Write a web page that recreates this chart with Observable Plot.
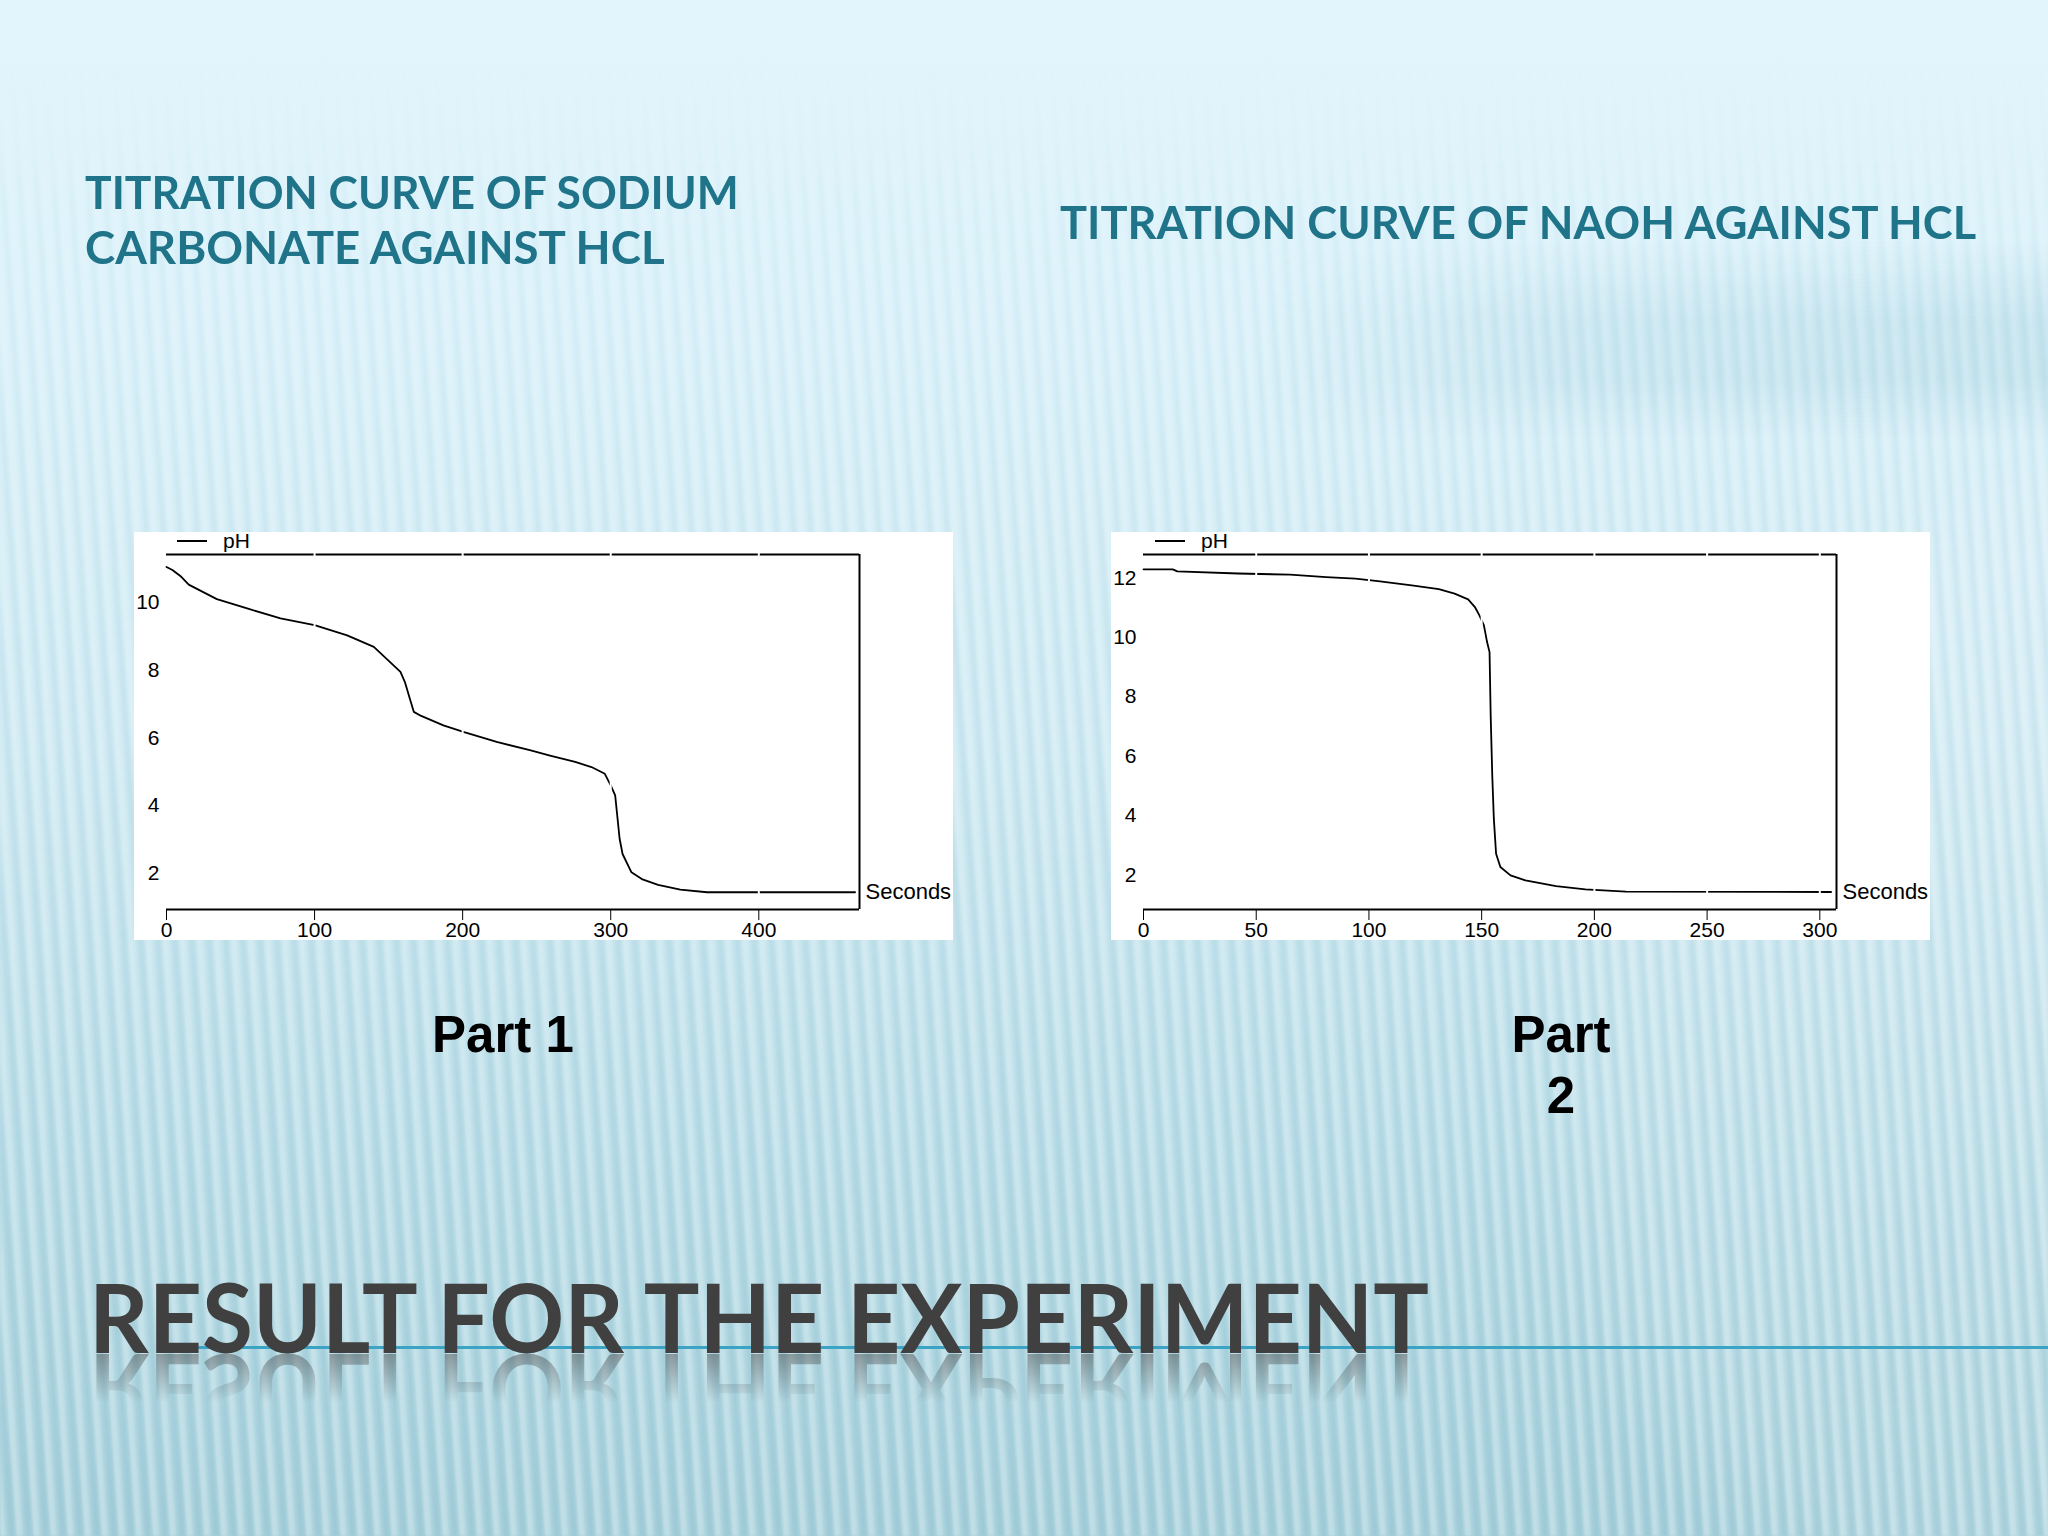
<!DOCTYPE html>
<html>
<head>
<meta charset="utf-8">
<script src="https://cdn.jsdelivr.net/npm/d3@7"></script>
<script src="https://cdn.jsdelivr.net/npm/@observablehq/plot@0.6"></script>
<style>
html, body { margin:0; padding:0; }
body {
  width:2048px; height:1536px; overflow:hidden; position:relative;
  background: linear-gradient(to bottom, #e3f5fc 0px, #dcf2fa 300px, #cfeaf3 750px, #bcdfe9 1100px, #a6d0db 1536px);
  font-family: Lato, "Open Sans", sans-serif;
}
#orb {
  position:absolute; left:1500px; top:430px; width:1300px; height:1300px; border-radius:50%;
  background: radial-gradient(circle, rgba(255,255,255,0.12) 0%, rgba(255,255,255,0.10) 58%, rgba(255,255,255,0.0) 70%);
}
#band {
  position:absolute; left:1250px; top:240px; width:798px; height:200px;
  background: linear-gradient(to right, rgba(140,195,212,0) 0%, rgba(140,195,212,0.20) 40%, rgba(140,195,212,0.26) 100%);
  -webkit-mask-image: linear-gradient(to bottom, transparent 0%, black 40%, black 70%, transparent 100%);
  mask-image: linear-gradient(to bottom, transparent 0%, black 40%, black 70%, transparent 100%);
}
#stripes {
  position:absolute; left:0; top:0; width:2048px; height:1536px;
  background: repeating-linear-gradient(86deg,
    rgba(255,255,255,0.30) 0px, rgba(255,255,255,0.30) 4px,
    rgba(255,255,255,0) 8px, rgba(80,145,168,0.12) 12px,
    rgba(255,255,255,0) 16px, rgba(255,255,255,0.30) 17px);
  filter: blur(1px);
  -webkit-mask-image: linear-gradient(to bottom, transparent 0px, transparent 60px, rgba(0,0,0,0.45) 260px, rgba(0,0,0,0.75) 700px, black 1536px);
  mask-image: linear-gradient(to bottom, transparent 0px, transparent 60px, rgba(0,0,0,0.45) 260px, rgba(0,0,0,0.75) 700px, black 1536px);
}
.title {
  position:absolute; font-family: Lato, "Open Sans", sans-serif; font-weight:700;
  font-size:46px; line-height:46px; color:#20748a; white-space:nowrap; transform-origin: 0 0;
}
.big {
  position:absolute; font-family: Lato, "Open Sans", sans-serif; font-weight:700;
  font-size:95px; line-height:95px; height:95px; color:#404040; white-space:nowrap; transform-origin: 0 0;
  -webkit-box-reflect: below -21px linear-gradient(to bottom, transparent 0px, transparent 36px, rgba(0,0,0,0.45) 84px, rgba(0,0,0,0.45) 95px);
}
.part {
  position:absolute; font-family: "Liberation Sans", Arial, sans-serif; font-weight:700;
  font-size:51px; color:#000; white-space:nowrap;
}
.card { position:absolute; width:819px; height:408px; background:#fff; }
.card svg { position:absolute; left:0; top:0; }
.legend {
  position:absolute; top:0; height:18px; display:flex; align-items:center;
  font-family: "Liberation Sans", Arial, sans-serif; font-size:21px; line-height:18px; color:#000;
}
.legend .sw { width:30px; height:2px; background:#000; margin-right:16px; }
#rule { position:absolute; left:190px; top:1346px; width:1858px; height:2.5px; background:#3ba3c3; }
</style>
</head>
<body>
<div id="band"></div>
<div id="orb"></div>
<div id="stripes"></div>

<div class="title" id="t1a" style="left:85px; top:169px;">TITRATION CURVE OF SODIUM</div>
<div class="title" id="t1b" style="left:85px; top:224px;">CARBONATE AGAINST HCL</div>
<div class="title" id="t2" style="left:1060px; top:199px;">TITRATION CURVE OF NAOH AGAINST HCL</div>

<div class="card" id="card1" style="left:134px; top:532px;"></div>
<div class="card" id="card2" style="left:1111px; top:532px;"></div>

<div class="part" style="left:432px; top:1004px; line-height:61px;">Part 1</div>
<div class="part" style="left:1411px; top:1004px; width:300px; text-align:center; line-height:61px;">Part<br>2</div>

<div id="rule"></div>
<div class="big" id="big" style="left:89px; top:1269px;">RESULT FOR THE EXPERIMENT</div>

<script>
// ---- data ----
const seriesName = "pH";
const xAxisName = "Seconds";

// Part 1: sodium carbonate against HCl
const part1Seconds = [0, 4, 10, 15, 34, 55, 77, 100, 122, 140, 151, 158, 161, 165, 167, 172, 187, 201, 223, 246, 259, 276, 287, 296, 300, 303, 306, 308, 314, 321, 332, 347, 365, 465];
const part1PH      = [11.05, 10.96, 10.76, 10.53, 10.1, 9.82, 9.53, 9.33, 9.03, 8.69, 8.24, 7.95, 7.65, 7.06, 6.77, 6.65, 6.37, 6.17, 5.88, 5.63, 5.48, 5.29, 5.14, 4.94, 4.6, 4.3, 3.02, 2.57, 2.03, 1.83, 1.66, 1.52, 1.44, 1.44];
const part1XTicks = [0, 100, 200, 300, 400];
const part1YTicks = [2, 4, 6, 8, 10];
const part1XDomain = [0, 468];
const part1YDomain = [0.93, 11.42];

// Part 2: NaOH against HCl
const part2Seconds = [0, 13, 15, 42, 65, 81, 94, 104, 119, 131, 138, 144, 147, 149, 151, 152.4, 153.5, 154, 154.7, 155.4, 156.4, 158.3, 162.8, 169.4, 183, 196, 214, 305];
const part2PH      = [12.29, 12.29, 12.22, 12.15, 12.11, 12.03, 11.98, 11.89, 11.75, 11.62, 11.47, 11.28, 11.02, 10.74, 10.4, 9.84, 9.5, 7.37, 5.35, 3.89, 2.71, 2.26, 1.98, 1.81, 1.62, 1.51, 1.43, 1.42];
const part2XTicks = [0, 50, 100, 150, 200, 250, 300];
const part2YTicks = [2, 4, 6, 8, 10, 12];
const part2XDomain = [0, 307.4];
const part2YDomain = [0.83, 12.79];

function makeChart(xs, ys, xDomain, yDomain, xTicks, yTicks) {
  const data = xs.map((x, i) => ({x, y: ys[i]}));
  const plateau = ys[ys.length - 1];
  const eps = (yDomain[1] - yDomain[0]) * 0.006;
  return Plot.plot({
    width: 819, height: 408,
    marginLeft: 32, marginRight: 94, marginTop: 22, marginBottom: 31,
    style: {background: "transparent", fontFamily: "'Liberation Sans', Arial, sans-serif", fontSize: "21px", color: "#000", overflow: "visible"},
    x: {domain: xDomain, ticks: xTicks, tickSize: 11, tickPadding: 2, label: null, tickFormat: d => String(d)},
    y: {domain: yDomain, ticks: yTicks, tickSize: 0, tickPadding: 7, label: null, tickFormat: d => String(d)},
    marks: [
      Plot.line(data, {x: "x", y: "y", stroke: "#000", strokeWidth: 1.8}),
      Plot.ruleY([yDomain[1]], {stroke: "#000", strokeWidth: 2}),
      Plot.ruleX(xTicks.filter(t => t > 0), {y1: yDomain[0] + 4 * eps, y2: yDomain[1] + eps, stroke: "#fff", strokeWidth: 2}),
      Plot.ruleY([yDomain[0]], {stroke: "#000", strokeWidth: 2}),
      Plot.ruleX([xDomain[1]], {y1: yDomain[0], y2: yDomain[1], stroke: "#000", strokeWidth: 2}),
      Plot.text([xAxisName], {x: xDomain[1], y: plateau, text: d => d, textAnchor: "start", dx: 6, fontSize: 22})
    ]
  });
}

function addLegend(card, left) {
  const lg = document.createElement("div");
  lg.className = "legend";
  lg.style.left = left + "px";
  lg.innerHTML = '<span class="sw"></span><span>' + seriesName + '</span>';
  card.appendChild(lg);
}

const card1 = document.getElementById("card1");
card1.appendChild(makeChart(part1Seconds, part1PH, part1XDomain, part1YDomain, part1XTicks, part1YTicks));
addLegend(card1, 43);
const card2 = document.getElementById("card2");
card2.appendChild(makeChart(part2Seconds, part2PH, part2XDomain, part2YDomain, part2XTicks, part2YTicks));
addLegend(card2, 44);

function fit(id, target) {
  const el = document.getElementById(id);
  el.style.transform = "none";
  const w = el.offsetWidth;
  el.style.transform = "scaleX(" + (target / w) + ")";
}
function layout() {
  fit("t1a", 654);
  fit("t1b", 580);
  fit("t2", 916);
  fit("big", 1340);
}
layout();
if (document.fonts && document.fonts.ready) document.fonts.ready.then(layout);
</script>
</body>
</html>
